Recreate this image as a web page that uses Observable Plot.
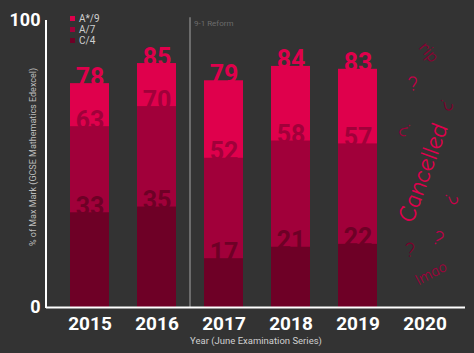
<!DOCTYPE html>
<html><head><meta charset="utf-8">
<script src="https://cdn.jsdelivr.net/npm/d3@7"></script>
<script src="https://cdn.jsdelivr.net/npm/@observablehq/plot@0.6"></script>
<style>
html,body{margin:0;padding:0;background:#333;}
#wrap{position:relative;width:474px;height:353px;font-family:Roboto,sans-serif;}
.legend{position:absolute;left:70px;top:13px;font-size:10px;color:#cfcfcf;line-height:11px;}
.legend div{white-space:nowrap;}
.legend span.sw{display:inline-block;width:5px;height:5px;margin-right:4px;vertical-align:1px;}
</style></head><body><div id="wrap"></div>
<script>
// ---- data ----
const years = ["2015","2016","2017","2018","2019","2020"];
const grades = ["A*/9","A/7","C/4"];
const gradeA9 = [78, 85, 79, 84, 83, null];
const gradeA7 = [63, 70, 52, 58, 57, null];
const gradeC4 = [33, 35, 17, 21, 22, null];
const yTicks = [0, 100];
const reformYear = "2017";
const reformLabel = "9-1 Reform";
const yTitle = "% of Max Mark (GCSE Mathematics Edexcel)";
const xTitle = "Year (June Examination Series)";
const cancelledYear = "2020";
const noteTexts = ["rip","?","¿","¿","Cancelled","¿","?","?","lmao"];
const noteValues = [89, 78, 71, 63, 47, 38, 24, 20, 12];

// ---- styling ----
const colors = ["#df004c", "#a1003a", "#6e0026"];
const noteStyle = [
  {dx: 4,  rotate: 50,  size: 18, color: "#8a0032"},
  {dx: -11,rotate: -15, size: 20, color: "#c4004a"},
  {dx: 18, rotate: -60, size: 20, color: "#7c002c"},
  {dx: -19,rotate: 30,  size: 20, color: "#a0003b"},
  {dx: -2, rotate: -70, size: 25, color: "#df004c"},
  {dx: 23, rotate: -70, size: 20, color: "#cc004b"},
  {dx: 14, rotate: 15,  size: 20, color: "#c0004a"},
  {dx: -14,rotate: -10, size: 20, color: "#7c002c"},
  {dx: 6,  rotate: -28, size: 16, color: "#a0003b"}
];
const hand = "'Comic Sans MS','Comic Neue',cursive,'DejaVu Sans'";

const rows = years.map((year, i) => ({year, a9: gradeA9[i], a7: gradeA7[i], c4: gradeC4[i]}));
const keys = ["a9", "a7", "c4"];

const bars = keys.map((k, i) => Plot.barY(rows, {x: "year", y: k, fill: colors[i]}));
const labels = keys.map((k, i) => Plot.text(rows, {
  x: "year", y: k, text: k, fill: colors[i], fontSize: 25, fontWeight: "bold",
  lineAnchor: "bottom", dy: 2
}));
const notes = noteTexts.map((t, i) => Plot.text([{year: cancelledYear, v: noteValues[i], t}], {
  x: "year", y: "v", text: "t", dx: noteStyle[i].dx, rotate: noteStyle[i].rotate,
  fontSize: noteStyle[i].size, fill: noteStyle[i].color, fontFamily: hand
}));

const chart = Plot.plot({
  width: 474, height: 353,
  marginLeft: 46, marginRight: 9, marginTop: 20, marginBottom: 46,
  style: {background: "#333", fontFamily: "Roboto, sans-serif", color: "white"},
  x: {domain: years, insetLeft: 10, insetRight: 7, paddingInner: 0.425, paddingOuter: 0.2125, label: null},
  y: {domain: [0, 100], label: null},
  marks: [
    ...bars,
    ...labels,
    Plot.ruleX([reformYear], {dx: -34, y1: 0, y2: 101, stroke: "#6c6c6c", strokeWidth: 2}),
    Plot.text([reformLabel], {x: () => reformYear, y: () => 99, dx: -30, textAnchor: "start", fontSize: 8, fill: "#6c6c6c"}),
    ...notes,
    Plot.ruleY([0], {stroke: "white", strokeWidth: 2}),
    Plot.axisY({ticks: yTicks, tickSize: 0, tickPadding: 6, fontSize: 18, fontWeight: "bold", fill: "white", label: null}),
    Plot.axisX({tickSize: 0, tickPadding: 9, fontSize: 19, fontWeight: "bold", fill: "white", label: null}),
    Plot.text([yTitle], {frameAnchor: "left", textAnchor: "middle", rotate: -90, dx: -13, dy: -7, fontSize: 9, fill: "#bdbdbd"}),
    Plot.text([xTitle], {frameAnchor: "bottom", dy: 36, fontSize: 9.5, fill: "#cfcfcf"})
  ]
});

// left axis line, placed through the plot's own y scale
const ys = chart.scale("y");
d3.select(chart).append("line")
  .attr("x1", 46).attr("x2", 46)
  .attr("y1", ys.apply(100)).attr("y2", ys.apply(0) + 1)
  .attr("stroke", "white").attr("stroke-width", 2);

const wrap = document.getElementById("wrap");
wrap.appendChild(chart);
const legend = document.createElement("div");
legend.className = "legend";
legend.innerHTML = grades.map((g, i) => `<div><span class="sw" style="background:${colors[i]}"></span>${g}</div>`).join("");
wrap.appendChild(legend);
</script>
</body></html>
